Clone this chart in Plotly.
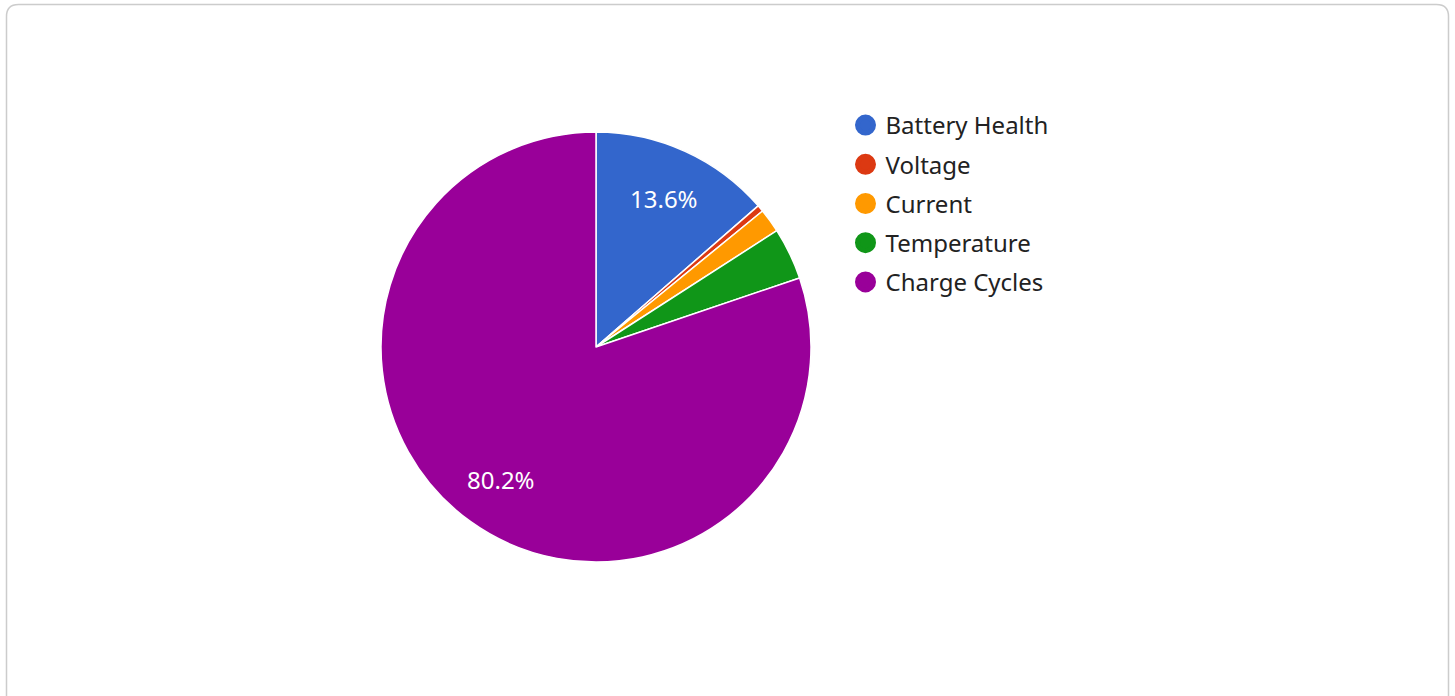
import math
import plotly.graph_objects as go

categories = ["Battery Health", "Voltage", "Current", "Temperature", "Charge Cycles"]
values = [13.6, 0.5, 1.8, 3.9, 80.2]
colors = ["#3366cc", "#dc3912", "#ff9900", "#109618", "#990099"]
show_label = [True, False, False, False, True]

FONT = "Noto Sans"
W, H = 1455, 696
CX, CY, R = 596, 347, 215  # pie centre and radius in pixels
LABEL_R = 0.758            # label distance as fraction of radius

fig = go.Figure()
fig.add_trace(go.Pie(
    labels=categories,
    values=values,
    sort=False,
    direction="clockwise",
    rotation=0,
    marker=dict(colors=colors, line=dict(color="white", width=1.5)),
    textinfo="none",
    hoverinfo="label+percent",
    showlegend=False,
    domain=dict(x=[(CX - R) / W, (CX + R) / W],
                y=[(H - CY - R) / H, (H - CY + R) / H]),
))

# slice labels placed at the mid-angle of each slice (computed from the data)
total = sum(values)
annotations = []
cum = 0.0
for v, s in zip(values, show_label):
    mid = (cum + v / 2) / total * 2 * math.pi
    cum += v
    if not s:
        continue
    px = CX + LABEL_R * R * math.sin(mid)
    py = CY - LABEL_R * R * math.cos(mid)
    annotations.append(dict(
        x=px / W, y=1 - py / H, xref="paper", yref="paper",
        text=f"{v / total * 100:.1f}%", showarrow=False,
        xanchor="center", yanchor="middle",
        font=dict(family=FONT, size=24, color="white"),
    ))

for c, col in zip(categories, colors):
    fig.add_trace(go.Scatter(
        x=[None], y=[None], mode="markers", name=c, legendgroup=c,
        marker=dict(symbol="circle", size=16, color=col,
                    line=dict(color=col, width=5)),
        hoverinfo="skip",
    ))

rx, ry = 12 / W, 12 / H
x0, x1 = 6.5 / W, 1448.5 / W
y1, y0 = 1 - 4.5 / H, -0.05
path = (f"M {x0},{y0} L {x0},{y1-ry} Q {x0},{y1} {x0+rx},{y1} "
        f"L {x1-rx},{y1} Q {x1},{y1} {x1},{y1-ry} L {x1},{y0}")

fig.update_layout(
    width=W, height=H,
    margin=dict(l=0, r=0, t=0, b=0),
    paper_bgcolor="white", plot_bgcolor="white",
    font=dict(family=FONT, size=24, color="#222222"),
    xaxis=dict(visible=False, domain=[0.99, 1]),
    yaxis=dict(visible=False, domain=[0.99, 1]),
    legend=dict(x=845.5 / W, y=1 - 103 / H, xanchor="left", yanchor="top",
                font=dict(family=FONT, size=24, color="#222222"),
                tracegroupgap=5, itemwidth=30, bgcolor="rgba(0,0,0,0)"),
    annotations=annotations,
    shapes=[dict(type="path", path=path, xref="paper", yref="paper",
                 line=dict(color="#cccccc", width=1.5), layer="below")],
)

fig.write_html("out.html")
